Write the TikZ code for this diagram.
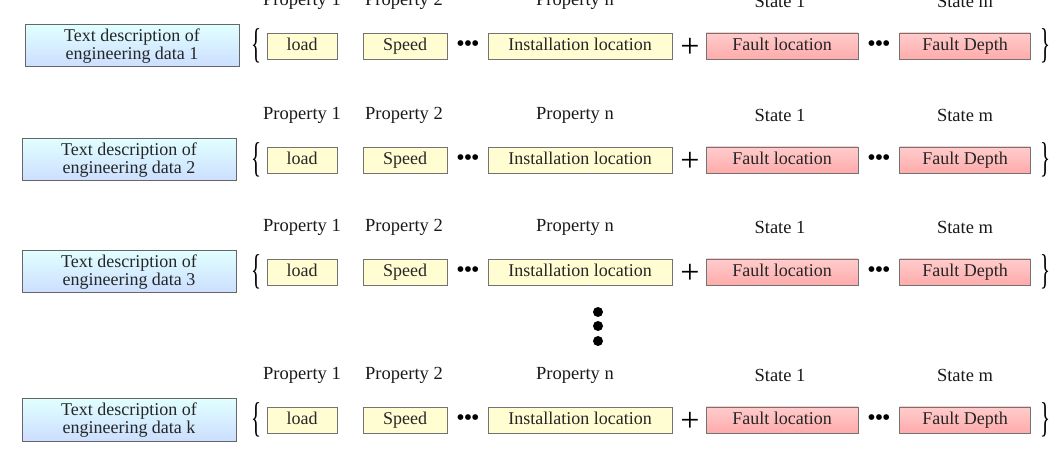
\documentclass[tikz,border=0pt]{standalone}
\usepackage{fontspec}
\usepackage{graphicx}
\setmainfont{Liberation Serif}
\begin{document}
\begin{tikzpicture}[x=1pt,y=-1pt,
 base/.style={draw=black!55,line width=0.7pt,minimum height=26pt,inner sep=1pt,text height=12pt,text depth=3pt,font=\fontsize{18}{18}\selectfont,text=black!85},
 descbox/.style={draw=black!60,line width=1pt,top color=cyan!12,bottom color=cyan!35!blue!20,minimum width=214pt,minimum height=42pt,inner sep=1pt,align=center,font=\fontsize{18}{18}\selectfont,text=black!85},
 propbox/.style={base,fill=yellow!18},
 statebox/.style={base,top color=red!20,bottom color=red!33},
 lbl/.style={font=\fontsize{18.5}{19}\selectfont,text=black!90},
 brc/.style={inner sep=0pt,font=\fontsize{26}{26}\selectfont},
 sym/.style={font=\fontsize{34}{34}\selectfont,inner sep=0pt},
 bullets/.style={font=\fontsize{24}{24}\selectfont,inner sep=0pt}]
\useasboundingbox (0,0) rectangle (1061,454);
\foreach \r/\y/\k/\dx in {1/46/1/3, 2/160/2/0, 3/272/3/0, 4/420/k/0}{
  \node[descbox] (d\r) at (129+\dx,\y) {Text description of\\engineering data \k};
  \node[brc] (lb\r) at (256,\y) {\scalebox{0.8}[1.6]{\{}};
  \node[propbox,minimum width=70pt] (p1\r) at (302,\y) {load};
  \node[propbox,minimum width=84pt] (p2\r) at (405,\y) {Speed};
  \node[bullets] (b1\r) at (468,\y) {\textbullet\kern-1pt\textbullet\kern-1pt\textbullet};
  \node[sym] (pl\r) at (690,\y+2) {+};
  \node[propbox,minimum width=184pt] (pn\r) at (580,\y) {Installation location};
  \node[statebox,minimum width=152pt] (s1\r) at (782,\y) {Fault location};
  \node[bullets] (b2\r) at (879,\y) {\textbullet\kern-1pt\textbullet\kern-1pt\textbullet};
  \node[statebox,minimum width=131pt] (sm\r) at (965,\y) {Fault Depth};
  \node[brc] (rb\r) at (1045,\y) {\scalebox{0.8}[1.6]{\}}};
  \node[lbl] (l1\r) at (302,\y-45) {Property 1};
  \node[lbl] (l2\r) at (404,\y-45) {Property 2};
  \node[lbl] (ln\r) at (575,\y-45) {Property n};
  \node[lbl] (ls1\r) at (780,\y-45) {State 1};
  \node[lbl] (lsm\r) at (965,\y-45) {State m};
}
\foreach \yy [count=\i] in {312,326,341}
  \fill (598,\yy) circle (5pt) coordinate (vd\i);
\end{tikzpicture}
\end{document}
